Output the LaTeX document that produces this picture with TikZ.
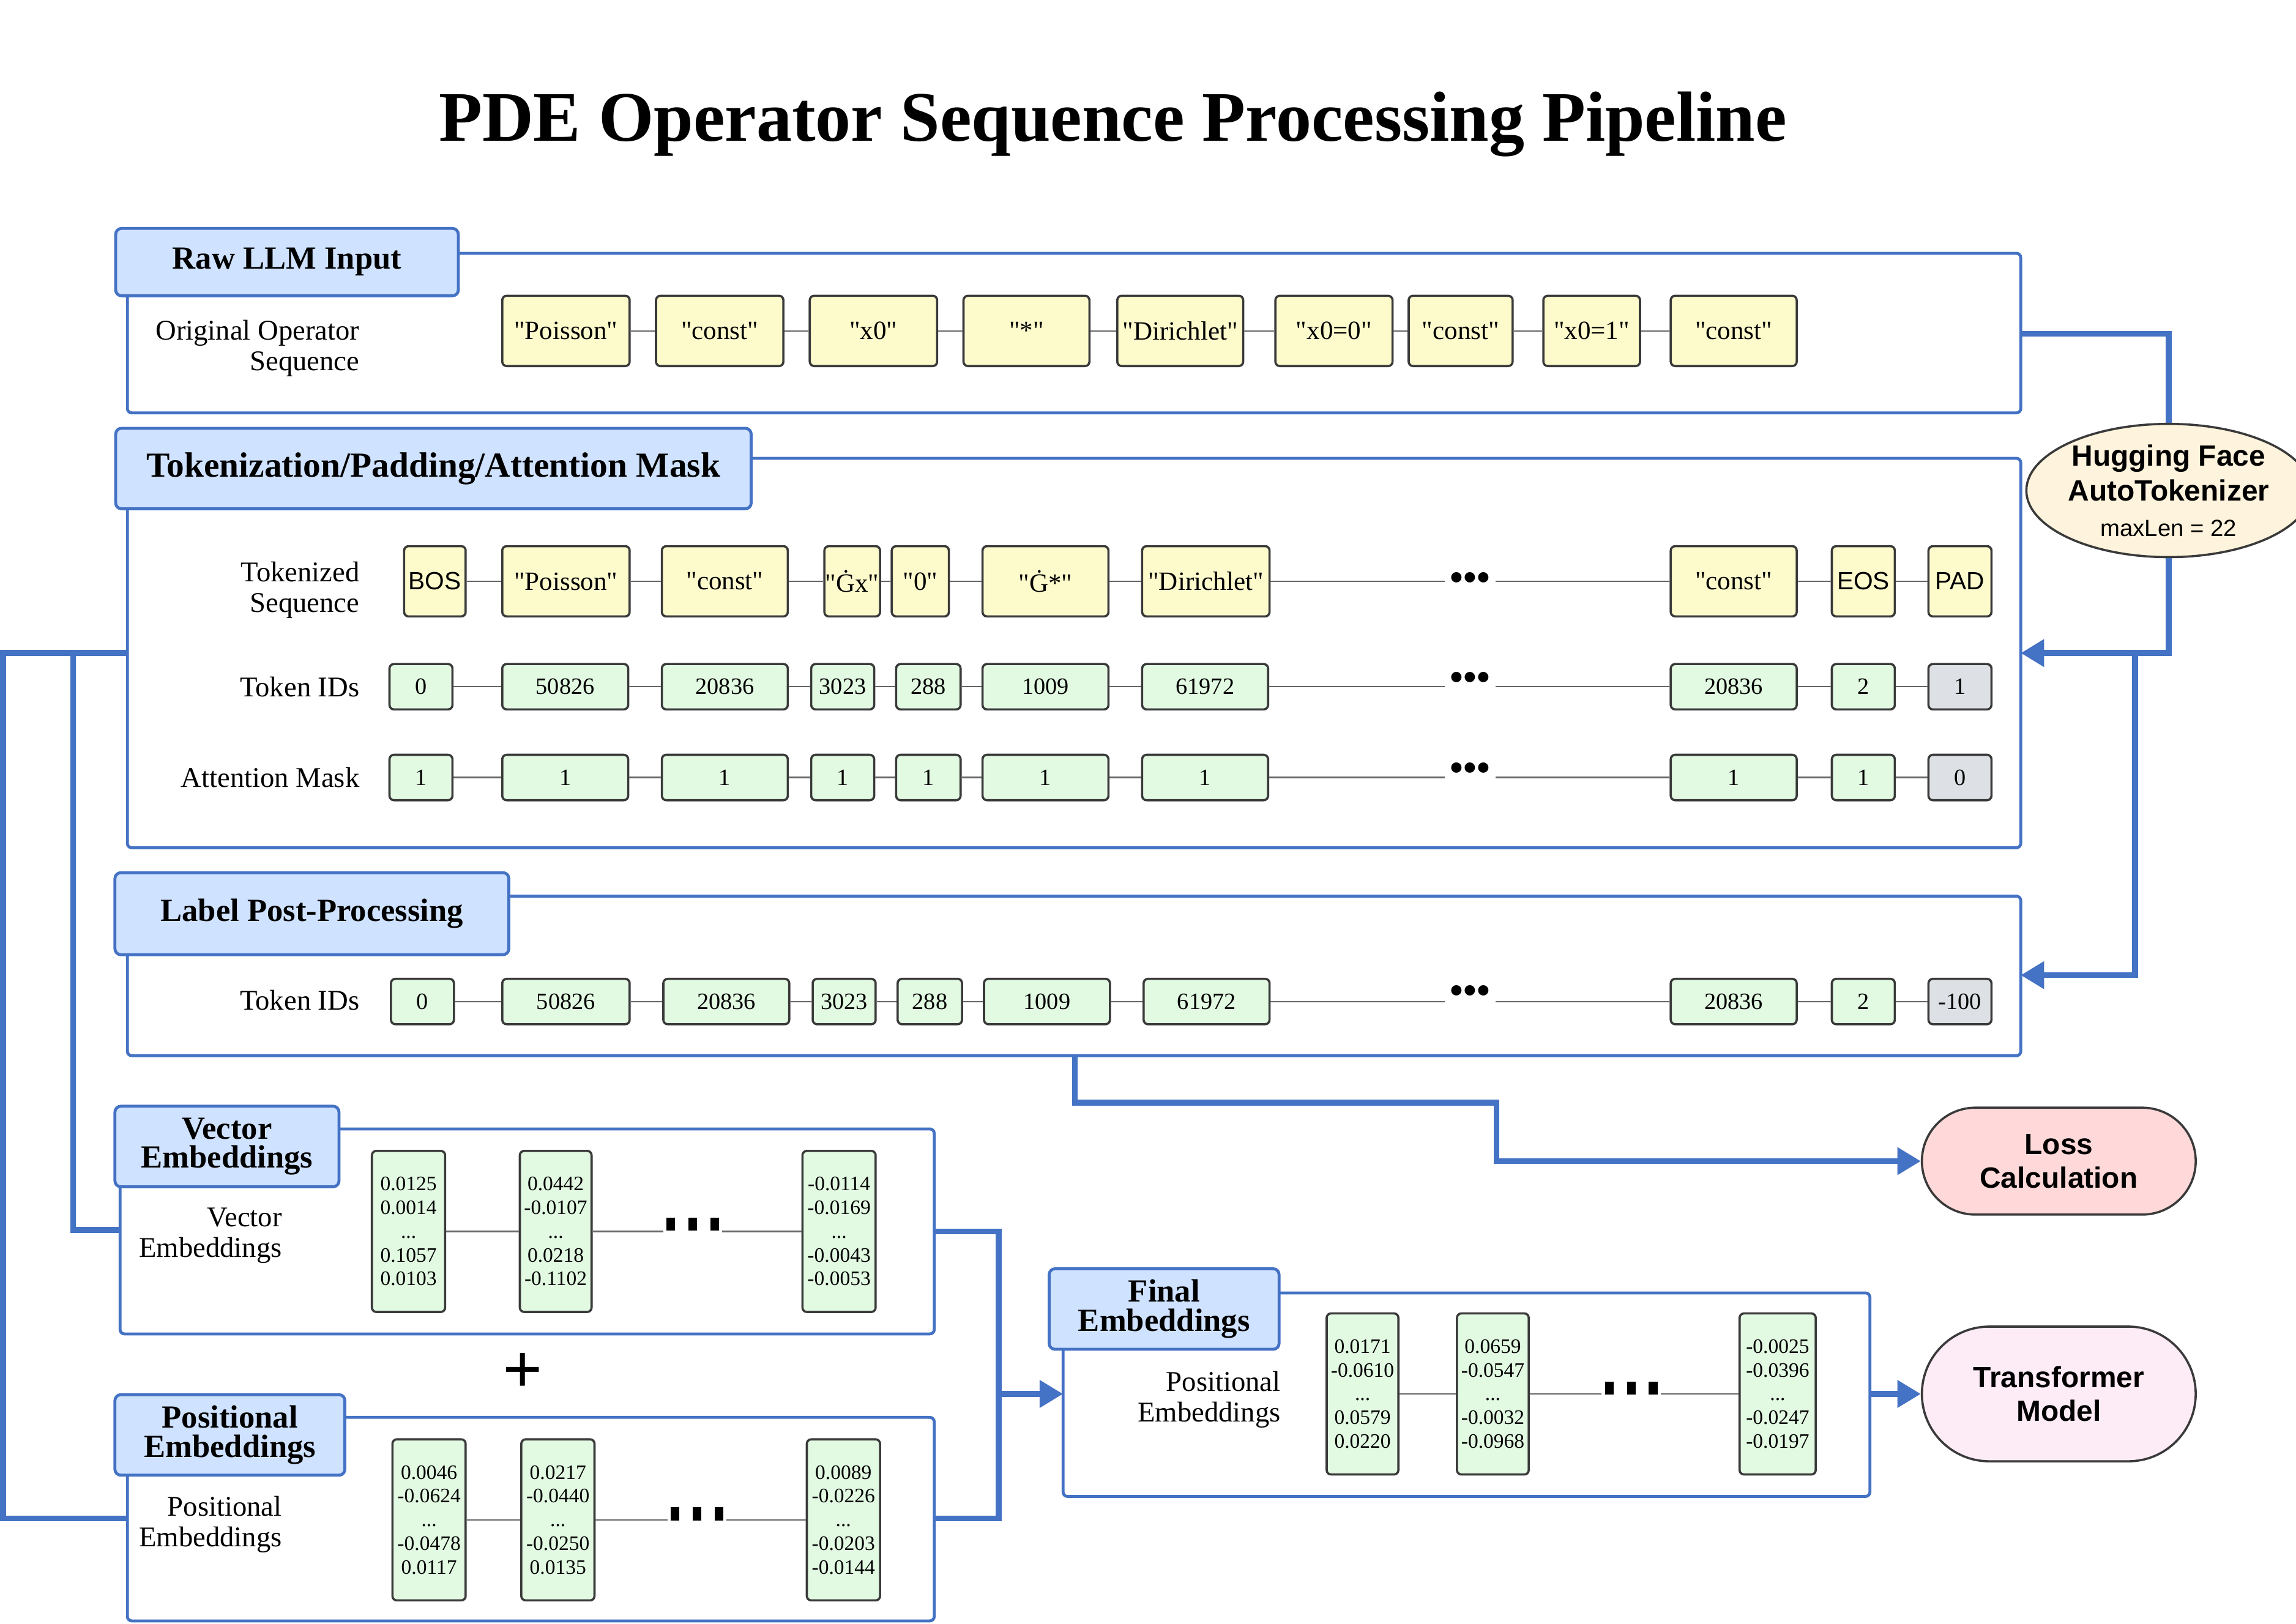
\documentclass[tikz,border=0pt]{standalone}
\usepackage{fontspec}
\setmainfont{Liberation Serif}[Ligatures=TeXOff]
\newfontfamily\sansf{Liberation Sans}
\usetikzlibrary{arrows.meta,shapes.misc,shapes.geometric}

\definecolor{lineblue}{HTML}{4472C4}
\definecolor{headfill}{HTML}{CFE2FF}
\definecolor{tokfill}{HTML}{FDFBCC}
\definecolor{idfill}{HTML}{E2F9E2}
\definecolor{padfill}{HTML}{DDE0E4}
\definecolor{edgedark}{HTML}{3A3A3A}
\definecolor{hffill}{HTML}{FEF3DC}

\tikzset{
  panel/.style={draw=lineblue, line width=2pt, rounded corners=3pt},
  head/.style={draw=lineblue, line width=2pt, fill=headfill, rounded corners=4pt,
    font=\fontsize{22}{24}\selectfont\bfseries, align=center, inner sep=0pt},
  tok/.style={draw=edgedark, line width=1.5pt, fill=tokfill, rounded corners=3pt,
    minimum height=48pt, inner sep=0pt, font=\fontsize{18}{20}\selectfont},
  tid/.style={tok, fill=idfill, minimum height=31pt, font=\fontsize{16}{18}\selectfont},
  tpad/.style={tid, fill=padfill},
  vcol/.style={draw=edgedark, line width=1.5pt, fill=idfill, rounded corners=3pt,
    minimum height=110pt, inner sep=0pt, align=center,
    font=\fontsize{14}{16.2}\selectfont},
  rowlab/.style={anchor=east, align=right, font=\fontsize{19.5}{21}\selectfont},
  link/.style={draw=gray!80!black, line width=1pt},
  flow/.style={draw=lineblue, line width=4pt},
  tip/.style={-{Triangle[length=16pt,width=18pt]}},
  endnode/.style={draw=edgedark, line width=1.5pt, rounded rectangle,
    font=\sansf\fontsize{20}{23}\selectfont\bfseries, align=center, inner sep=0pt},
  bigdots/.style={font=\fontsize{26}{26}\selectfont\bfseries},
  sqdots/.style={inner sep=2pt}
}

% box from x1 to x2 centred on row y
\newcommand\tbox[6]{\node[#2, minimum width={(#4-#3)*1pt}] (#1) at ({(#3+#4)/2},#5) {#6};}
\newcommand\sqd{\rule{6pt}{9pt}\hspace{9pt}\rule{6pt}{9pt}\hspace{9pt}\rule{6pt}{9pt}}

\begin{document}
\begin{tikzpicture}[x=1pt,y=-1pt]
	\useasboundingbox (0,0) rectangle (1568,1109);

	% title
	\node (title) at (760,85) {\fontsize{48.5}{52}\selectfont\bfseries PDE Operator Sequence Processing Pipeline};

	% raw input
	\draw[panel] (87,173) rectangle (1380,282);
	\node[head, minimum width=234pt, minimum height=46pt] (hraw) at (196,179) {Raw LLM Input};
	\node[rowlab] (lraw) at (249,238) {Original Operator\\Sequence};
	\tbox{r1}{tok}{343}{430}{226}{"Poisson"}
	\tbox{r2}{tok}{448}{535}{226}{"const"}
	\tbox{r3}{tok}{553}{640}{226}{"x0"}
	\tbox{r4}{tok}{658}{744}{226}{"*"}
	\tbox{r5}{tok}{763}{849}{226}{"Dirichlet"}
	\tbox{r6}{tok}{871}{951}{226}{"x0=0"}
	\tbox{r7}{tok}{962}{1033}{226}{"const"}
	\tbox{r8}{tok}{1054}{1120}{226}{"x0=1"}
	\tbox{r9}{tok}{1141}{1227}{226}{"const"}
	\foreach \a/\b in {r1/r2,r2/r3,r3/r4,r4/r5,r5/r6,r6/r7,r7/r8,r8/r9}
		\draw[link] (\a) -- (\b);

	% tokenization
	\draw[panel] (87,313) rectangle (1380,579);
	\node[head, minimum width=434pt, minimum height=55pt, font=\fontsize{24}{26}\selectfont\bfseries] (htok) at (296,320) {Tokenization/Padding/Attention Mask};
	\node[rowlab] (ltok) at (249,403) {Tokenized\\Sequence};
	\node[rowlab] (lid) at (249,469) {Token IDs};
	\node[rowlab] (lmask) at (249,531) {Attention Mask};

	\tbox{t1}{tok,font=\sansf\fontsize{17}{19}\selectfont}{276}{318}{397}{BOS}
	\tbox{t2}{tok}{343}{430}{397}{"Poisson"}
	\tbox{t3}{tok}{452}{538}{397}{"const"}
	\tbox{t4}{tok}{563}{601}{397}{"Ġx"}
	\tbox{t5}{tok}{609}{648}{397}{"0"}
	\tbox{t6}{tok}{671}{757}{397}{"Ġ*"}
	\tbox{t7}{tok}{780}{867}{397}{"Dirichlet"}
	\node[bigdots] (td) at (1004,397) {•••};
	\tbox{t8}{tok}{1141}{1227}{397}{"const"}
	\tbox{t9}{tok,font=\sansf\fontsize{17}{19}\selectfont}{1251}{1294}{397}{EOS}
	\tbox{t10}{tok,font=\sansf\fontsize{17}{19}\selectfont}{1317}{1360}{397}{PAD}

	\tbox{i1}{tid}{266}{309}{469}{0}
	\tbox{i2}{tid}{343}{429}{469}{50826}
	\tbox{i3}{tid}{452}{538}{469}{20836}
	\tbox{i4}{tid}{554}{597}{469}{3023}
	\tbox{i5}{tid}{612}{656}{469}{288}
	\tbox{i6}{tid}{671}{757}{469}{1009}
	\tbox{i7}{tid}{780}{866}{469}{61972}
	\node[bigdots] (id) at (1004,465) {•••};
	\tbox{i8}{tid}{1141}{1227}{469}{20836}
	\tbox{i9}{tid}{1251}{1294}{469}{2}
	\tbox{i10}{tpad}{1317}{1360}{469}{1}

	\tbox{m1}{tid}{266}{309}{531}{1}
	\tbox{m2}{tid}{343}{429}{531}{1}
	\tbox{m3}{tid}{452}{538}{531}{1}
	\tbox{m4}{tid}{554}{597}{531}{1}
	\tbox{m5}{tid}{612}{656}{531}{1}
	\tbox{m6}{tid}{671}{757}{531}{1}
	\tbox{m7}{tid}{780}{866}{531}{1}
	\node[bigdots] (md) at (1004,527) {•••};
	\tbox{m8}{tid}{1141}{1227}{531}{1}
	\tbox{m9}{tid}{1251}{1294}{531}{1}
	\tbox{m10}{tpad}{1317}{1360}{531}{0}
	\foreach \p/\d in {t/td,i/id,m/md} {
		\foreach \a/\b in {1/2,2/3,3/4,4/5,5/6,6/7,8/9,9/10}
			\draw[link] (\p\a) -- (\p\b);
		\draw[link] (\p7) -- (\d.west |- \p7);
		\draw[link] (\d.east |- \p8) -- (\p8);
	}

	% label post-processing
	\draw[panel] (87,612) rectangle (1380,721);
	\node[head, minimum width=269pt, minimum height=56pt] (hlab) at (213,624) {Label Post-Processing};
	\node[rowlab] (llab) at (249,683) {Token IDs};
	\tbox{l1}{tid}{267}{310}{684}{0}
	\tbox{l2}{tid}{343}{430}{684}{50826}
	\tbox{l3}{tid}{453}{539}{684}{20836}
	\tbox{l4}{tid}{555}{598}{684}{3023}
	\tbox{l5}{tid}{613}{657}{684}{288}
	\tbox{l6}{tid}{672}{758}{684}{1009}
	\tbox{l7}{tid}{781}{867}{684}{61972}
	\node[bigdots] (ld) at (1004,679) {•••};
	\tbox{l8}{tid}{1141}{1227}{684}{20836}
	\tbox{l9}{tid}{1251}{1294}{684}{2}
	\tbox{l10}{tpad}{1317}{1360}{684}{-100}
	\foreach \a/\b in {1/2,2/3,3/4,4/5,5/6,6/7,8/9,9/10}
		\draw[link] (l\a) -- (l\b);
	\draw[link] (l7) -- (ld.west |- l7);
	\draw[link] (ld.east |- l8) -- (l8);

	% tokenizer
	\node[draw=edgedark, line width=1.5pt, fill=hffill, ellipse, minimum width=172pt, minimum height=91pt,
		inner sep=0pt, align=center, font=\sansf\fontsize{20}{24}\selectfont\bfseries] (hf) at (1481,335)
		{Hugging Face\\AutoTokenizer\\{\mdseries\fontsize{16}{18}\selectfont maxLen = 22}};
	\coordinate (rawout) at (1380,228);
	\coordinate (tokin) at (1380,446);
	\coordinate (labin) at (1380,666);
	\draw[flow] (rawout) -| (hf.north);
	\draw[flow,tip] (hf.south) |- (tokin);
	\draw[flow,tip] (1458,446) |- (labin);

	% loss
	\node[endnode, fill=red!15, minimum width=187pt, minimum height=73pt] (loss) at (1406,793) {Loss\\Calculation};
	\coordinate (labout) at (734,721);
	\draw[flow,tip] (labout) -- (734,753) -| (1022,793) -- (loss.west);

	% vector embeddings
	\draw[panel] (82,771) rectangle (638,911);
	\node[head, minimum width=153pt, minimum height=55pt] (hvec) at (155,783) {Vector\\[-4pt]Embeddings};
	\node[rowlab] (lvec) at (196,844) {Vector\\Embeddings};
	\tbox{v1}{vcol}{254}{304}{841}{0.0125\\0.0014\\...\\0.1057\\0.0103}
	\tbox{v2}{vcol}{355}{404}{841}{0.0442\\-0.0107\\...\\0.0218\\-0.1102}
	\node[sqdots] (vd) at (473,836) {\sqd};
	\tbox{v3}{vcol}{548}{598}{841}{-0.0114\\-0.0169\\...\\-0.0043\\-0.0053}
	\draw[link] (v1) -- (v2);
	\draw[link] (v2) -- (vd.west |- v2);
	\draw[link] (vd.east |- v3) -- (v3);

	\node (plus) at (357,938) {\fontsize{48}{48}\selectfont\bfseries +};

	% positional embeddings
	\draw[panel] (87,968) rectangle (638,1107);
	\node[head, minimum width=157pt, minimum height=55pt] (hpos) at (157,980) {Positional\\[-4pt]Embeddings};
	\node[rowlab] (lpos) at (196,1041) {Positional\\Embeddings};
	\tbox{p1}{vcol}{268}{318}{1038}{0.0046\\-0.0624\\...\\-0.0478\\0.0117}
	\tbox{p2}{vcol}{356}{406}{1038}{0.0217\\-0.0440\\...\\-0.0250\\0.0135}
	\node[sqdots] (pd) at (476,1034) {\sqd};
	\tbox{p3}{vcol}{551}{601}{1038}{0.0089\\-0.0226\\...\\-0.0203\\-0.0144}
	\draw[link] (p1) -- (p2);
	\draw[link] (p2) -- (pd.west |- p2);
	\draw[link] (pd.east |- p3) -- (p3);

	% final embeddings
	\draw[panel] (726,883) rectangle (1277,1022);
	\node[head, minimum width=157pt, minimum height=55pt] (hfin) at (795,894) {Final\\[-4pt]Embeddings};
	\node[rowlab] (lfin) at (878,956) {Positional\\Embeddings};
	\tbox{f1}{vcol}{906}{955}{952}{0.0171\\-0.0610\\...\\0.0579\\0.0220}
	\tbox{f2}{vcol}{995}{1044}{952}{0.0659\\-0.0547\\...\\-0.0032\\-0.0968}
	\node[sqdots] (fd) at (1114,948) {\sqd};
	\tbox{f3}{vcol}{1188}{1240}{952}{-0.0025\\-0.0396\\...\\-0.0247\\-0.0197}
	\draw[link] (f1) -- (f2);
	\draw[link] (f2) -- (fd.west |- f2);
	\draw[link] (fd.east |- f3) -- (f3);

	% transformer
	\node[endnode, fill=magenta!8, minimum width=187pt, minimum height=92pt] (tm) at (1406,952) {Transformer\\Model};

	% embedding flows
	\coordinate (tokleft) at (87,446);
	\coordinate (vecleft) at (82,840);
	\coordinate (posleft) at (87,1037);
	\coordinate (vecright) at (638,841);
	\coordinate (posright) at (638,1037);
	\coordinate (finleft) at (726,952);
	\coordinate (finright) at (1277,952);
	\draw[flow] (tokleft) -- (2,446) -- (2,1037) -- (posleft);
	\draw[flow] (tokleft) -- (50,446) -- (50,840) -- (vecleft);
	\draw[flow] (vecright) -| (682,1037) -- (posright);
	\draw[flow,tip] (682,952) -- (finleft);
	\draw[flow,tip] (finright) -- (tm.west);

\end{tikzpicture}
\end{document}
